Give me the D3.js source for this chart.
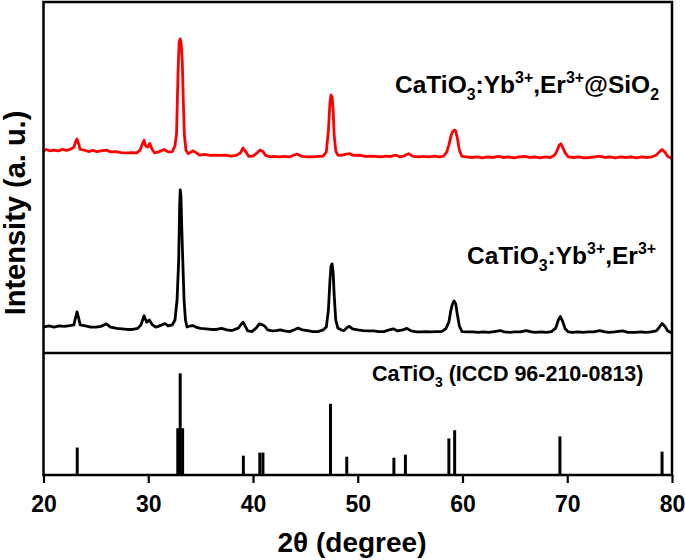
<!DOCTYPE html>
<html>
<head>
<meta charset="utf-8">
<script src="https://cdn.jsdelivr.net/npm/d3@7"></script>
<style>
  body { margin: 0; background: #fff; }
  text { font-family: "Liberation Sans", Arial, sans-serif; font-weight: bold; }
</style>
</head>
<body>
<div id="chart"></div>
<script>
// XRD patterns, [2theta, intensity (a.u.)]
const blackPattern = [
  [20.0,24],[20.5,27],[21.0,24],[21.5,27],[22.0,26],[22.5,28],[22.9,30],[23.1,56],[23.2,67],[23.35,50],
  [23.5,30],[24.0,27],[24.5,24],[25.0,24],[25.5,26],[26.0,33],[26.4,24],[27.0,20],[27.5,19],[28.0,17],
  [28.5,17],[29.0,20],[29.3,30],[29.6,56],[29.85,38],[30.1,44],[30.4,30],[30.7,24],[30.95,26],[31.3,30],
  [31.6,34],[31.9,27],[32.3,30],[32.55,44],[32.75,101],[32.9,209],[33.0,372],[33.05,415],[33.12,397],[33.2,306],
  [33.3,209],[33.42,101],[33.55,44],[33.7,24],[34.0,27],[34.3,28],[34.6,23],[35.0,20],[35.5,19],[36.0,17],
  [36.5,17],[37.0,20],[37.5,16],[38.0,14],[38.6,21],[38.9,33],[39.05,38],[39.25,27],[39.5,13],[39.9,11],
  [40.3,21],[40.6,33],[40.85,31],[41.1,27],[41.4,16],[41.8,13],[42.2,14],[42.6,16],[43.0,13],[43.5,11],
  [44.0,17],[44.3,21],[44.7,16],[45.2,14],[45.7,11],[46.2,11],[46.7,16],[47.0,24],[47.2,73],[47.35,158],
  [47.45,198],[47.55,204],[47.65,181],[47.75,115],[47.9,44],[48.1,21],[48.4,16],[48.7,14],[49.0,23],[49.2,26],
  [49.5,19],[50.0,16],[50.5,14],[51.0,13],[51.5,13],[52.0,11],[52.5,11],[53.0,16],[53.4,19],[53.8,13],
  [54.3,16],[54.7,20],[55.1,13],[55.6,10],[56.0,10],[56.5,11],[57.0,10],[57.5,11],[58.0,11],[58.4,19],
  [58.7,38],[58.9,73],[59.05,90],[59.2,98],[59.35,90],[59.5,61],[59.7,27],[59.95,11],[60.5,10],[61.0,10],
  [61.5,9],[62.0,10],[62.5,9],[63.0,11],[63.6,14],[64.0,10],[64.5,9],[65.0,10],[65.5,10],[66.1,14],
  [66.6,10],[67.0,9],[67.5,10],[68.0,9],[68.5,11],[68.9,21],[69.15,44],[69.35,54],[69.55,41],[69.8,19],
  [70.1,10],[70.5,9],[71.0,10],[71.5,9],[72.0,10],[72.5,10],[73.1,14],[73.6,10],[74.0,9],[74.5,10],
  [75.3,13],[75.8,9],[76.5,9],[77.0,10],[77.5,9],[78.0,10],[78.5,13],[78.8,24],[79.05,34],[79.3,27],
  [79.6,13],[80.0,7]
];

const redPattern = [
  [20.0,36],[20.3,40],[20.6,36],[21.0,38],[21.4,36],[21.8,40],[22.2,37],[22.6,41],[22.9,46],[23.1,64],
  [23.2,70],[23.35,56],[23.5,40],[23.9,38],[24.3,34],[24.7,37],[25.1,34],[25.5,36],[26.0,38],[26.4,33],
  [26.9,34],[27.4,31],[27.9,30],[28.4,31],[28.9,30],[29.2,37],[29.45,56],[29.6,66],[29.75,50],[29.95,47],
  [30.15,57],[30.35,41],[30.6,30],[31.0,33],[31.5,40],[31.9,33],[32.3,34],[32.55,50],[32.7,84],[32.85,266],
  [32.95,346],[33.05,355],[33.15,338],[33.25,289],[33.35,172],[33.45,81],[33.6,38],[33.8,28],[34.0,31],[34.3,36],
  [34.6,30],[34.9,24],[35.4,26],[35.9,23],[36.4,24],[36.9,23],[37.4,24],[37.9,21],[38.4,23],[38.8,30],
  [39.05,44],[39.25,36],[39.6,20],[40.0,21],[40.4,30],[40.65,38],[40.95,34],[41.2,23],[41.6,19],[42.0,20],
  [42.5,19],[43.0,20],[43.5,19],[44.2,27],[44.7,20],[45.2,19],[45.7,19],[46.2,20],[46.7,21],[47.0,33],
  [47.2,95],[47.35,175],[47.45,195],[47.55,189],[47.65,152],[47.75,81],[47.9,36],[48.1,24],[48.4,23],[48.8,26],
  [49.2,28],[49.6,23],[50.2,24],[50.7,20],[51.2,21],[51.7,20],[52.2,19],[52.7,21],[53.2,20],[53.6,24],
  [54.0,19],[54.4,21],[54.85,28],[55.3,20],[55.8,19],[56.3,20],[56.8,19],[57.3,21],[57.8,19],[58.2,21],
  [58.5,33],[58.7,53],[58.9,78],[59.05,90],[59.2,95],[59.35,93],[59.5,73],[59.7,38],[59.95,20],[60.4,19],
  [60.9,17],[61.4,19],[61.9,16],[62.4,19],[62.9,17],[63.4,20],[63.9,17],[64.4,19],[64.9,16],[65.4,19],
  [65.9,20],[66.4,17],[66.9,19],[67.4,16],[67.9,19],[68.4,17],[68.8,24],[69.05,38],[69.25,53],[69.4,56],
  [69.55,47],[69.8,30],[70.1,19],[70.6,17],[71.1,19],[71.6,16],[72.1,17],[72.6,19],[73.1,21],[73.6,17],
  [74.1,19],[74.6,16],[75.1,19],[75.6,17],[76.1,19],[76.6,16],[77.1,19],[77.6,17],[78.1,19],[78.5,24],
  [78.8,33],[79.05,40],[79.3,33],[79.6,20],[80.0,14]
];

// vertical offsets used to stack the two patterns
const blackOffset = 50;
const redOffset = 540;

// reference card CaTiO3 (ICCD 96-210-0813): 2theta and relative intensity
const refAngles =    [23.22, 32.82, 33.05, 33.28, 39.08, 40.65, 40.95, 47.4, 48.95, 53.45, 54.55, 58.7, 59.25, 69.3, 79.05];
const refIntensity = [27,    46,    100,   46,    19,    22,    22,    70,   18,    17,    20,    36,   44,    38,   23];

const xTicks = [20, 30, 40, 50, 60, 70, 80];

const label1 = [["CaTiO",""],["3","sub"],[":Yb",""],["3+","sup"],[",Er",""],["3+","sup"],["@SiO",""],["2","sub"]];
const label2 = [["CaTiO",""],["3","sub"],[":Yb",""],["3+","sup"],[",Er",""],["3+","sup"]];
const label3 = [["CaTiO",""],["3","sub"],[" (ICCD 96-210-0813)",""]];

const W = 685, H = 560;
const plotL = 43.5, plotR = 672, plotT = 2, plotB = 475, split = 353;

const svg = d3.select("#chart").append("svg")
  .attr("width", W)
  .attr("height", H);

const x = d3.scaleLinear().domain([20, 80]).range([plotL, plotR]);
const yTop = d3.scaleLinear().domain([0, 1000]).range([split, plotT]);
const yRef = d3.scaleLinear().domain([0, 120]).range([plotB, split]);

const line = off => d3.line()
  .x(d => x(d[0]))
  .y(d => yTop(d[1] + off));

svg.append("path")
  .datum(blackPattern)
  .attr("fill", "none")
  .attr("stroke", "#000")
  .attr("stroke-width", 2.8)
  .attr("stroke-linejoin", "round")
  .attr("d", line(blackOffset));

svg.append("path")
  .datum(redPattern)
  .attr("fill", "none")
  .attr("stroke", "#ff0000")
  .attr("stroke-width", 2.8)
  .attr("stroke-linejoin", "round")
  .attr("d", line(redOffset));

// reference sticks
svg.append("g")
  .selectAll("line")
  .data(refAngles)
  .enter()
  .append("line")
    .attr("x1", d => x(d))
    .attr("x2", d => x(d))
    .attr("y1", yRef(0))
    .attr("y2", (d, i) => yRef(refIntensity[i]))
    .attr("stroke", "#000")
    .attr("stroke-width", 3);

// frame + divider
svg.append("rect")
  .attr("x", plotL).attr("y", plotT)
  .attr("width", plotR - plotL).attr("height", plotB - plotT)
  .attr("fill", "none")
  .attr("stroke", "#000")
  .attr("stroke-width", 2.5);

svg.append("line")
  .attr("x1", plotL).attr("x2", plotR)
  .attr("y1", yTop(0)).attr("y2", yTop(0))
  .attr("stroke", "#000")
  .attr("stroke-width", 2.5);

// x axis
const xAxis = svg.append("g")
  .attr("transform", `translate(0,${plotB})`)
  .call(d3.axisBottom(x).tickValues(xTicks).tickSize(8).tickPadding(13));
xAxis.select(".domain").remove();
xAxis.selectAll(".tick line").attr("stroke", "#000").attr("stroke-width", 2.2);
xAxis.selectAll(".tick text")
  .attr("fill", "#000")
  .style("font-size", "23px")
  .style("font-family", "'Liberation Sans', Arial, sans-serif")
  .style("font-weight", "bold");

svg.append("text")
  .attr("x", 352)
  .attr("y", 552)
  .attr("text-anchor", "middle")
  .style("font-size", "28px")
  .text("2θ (degree)");

svg.append("text")
  .attr("transform", "translate(25,213) rotate(-90)")
  .attr("text-anchor", "middle")
  .style("font-size", "29px")
  .text("Intensity (a. u.)");

// rich labels with sub/superscripts
function richLabel(parts, px, py, size) {
  const t = svg.append("text")
    .attr("x", px)
    .attr("y", py)
    .style("font-size", size + "px");
  let shift = 0;
  parts.forEach(p => {
    let target = 0, fs = size;
    if (p[1] === "sub") { target = 0.28 * size; fs = 0.65 * size; }
    if (p[1] === "sup") { target = -0.42 * size; fs = 0.65 * size; }
    t.append("tspan")
      .attr("dy", target - shift)
      .style("font-size", fs + "px")
      .text(p[0]);
    shift = target;
  });
  return t;
}

richLabel(label1, 395, 93, 24.5);
richLabel(label2, 467, 264, 24.5);
richLabel(label3, 372, 381, 21.5);
</script>
</body>
</html>
